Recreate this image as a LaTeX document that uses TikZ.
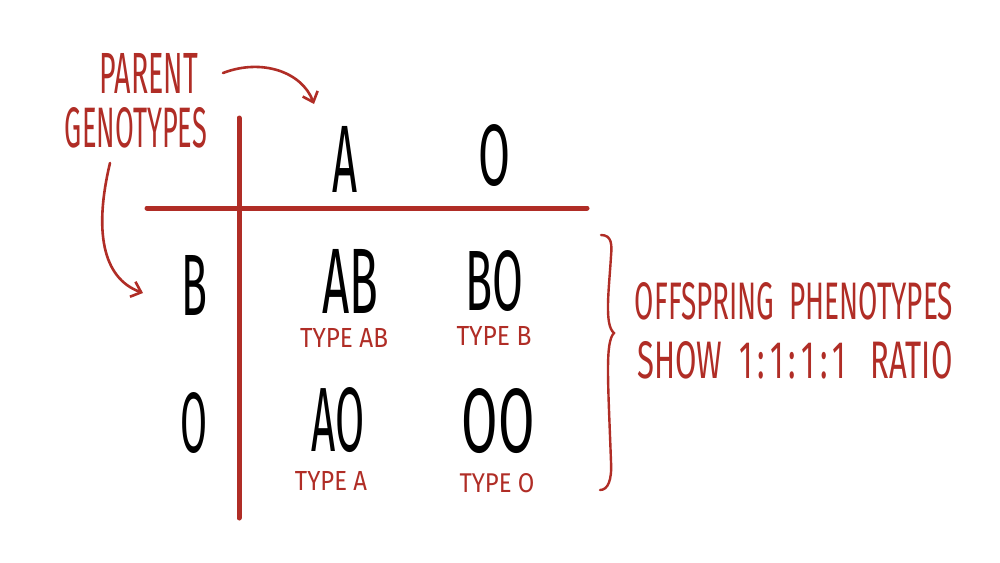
\documentclass[tikz,border=0pt]{standalone}
\usepackage{fontspec}
\setmainfont{Fira Sans}
\usepackage{graphicx}
\usetikzlibrary{arrows.meta}
\definecolor{pred}{HTML}{B02D26}
\newcommand\fitbox[3]{\resizebox{#1pt}{#2pt}{#3}}
\tikzset{
  lbl/.style={inner sep=0pt, anchor=center, text=pred},
  big/.style={inner sep=0pt, anchor=center, text=black},
  rline/.style={draw=pred, line width=5pt, line cap=round},
  rarrow/.style={draw=pred, line width=2.6pt, line cap=round, -{Straight Barb[length=9pt,width=16pt,line width=2.6pt]}},
  brace/.style={draw=pred, line width=2.4pt, line cap=round}
}
\begin{document}
\begin{tikzpicture}[x=1pt,y=-1pt]
\useasboundingbox (0,0) rectangle (1000,562);
\fill[white] (0,0) rectangle (1000,562);
% grid lines
\coordinate (vt) at (239,118);
\coordinate (vb) at (239,518);
\coordinate (hl) at (147,208);
\coordinate (hr) at (587,208);
\draw[rline] (vt) -- (vb);
\draw[rline] (hl) -- (hr);
% labels
\node[lbl] (pa) at (149,73) {\fitbox{98}{40}{PARENT}};
\node[lbl] (ge) at (136,128) {\fitbox{142}{40}{GENOTYPES}};
% header alleles
\node[big] (hA) at (345,159) {\fitbox{25}{66}{A}};
\node[big] (hO) at (494,156) {\fitbox{32}{61}{O}};
\node[big] (rB) at (195,285) {\fitbox{26}{60}{B}};
\node[big] (rO) at (194,423) {\fitbox{27}{60}{O}};
% cells
\node[big] (cAB) at (350,281) {\fitbox{56}{64}{AB}};
\node[big] (cBO) at (494,281) {\fitbox{58}{60}{BO}};
\node[big] (cAO) at (338,420) {\fitbox{53}{64}{AO}};
\node[big] (cOO) at (498,421) {\fitbox{73}{64}{OO}};
\node[lbl] (tAB) at (344,338) {\fitbox{88}{19}{TYPE AB}};
\node[lbl] (tB) at (494,336) {\fitbox{75}{19}{TYPE B}};
\node[lbl] (tA) at (331,481) {\fitbox{72}{19}{TYPE A}};
\node[lbl] (tO) at (497,483) {\fitbox{75}{19}{TYPE O}};
% right text
\node[lbl] (off1) at (794,301) {\fitbox{318}{37}{OFFSPRING\ \ PHENOTYPES}};
\node[lbl] (off2) at (795,360) {\fitbox{315}{37}{SHOW\ \ 1\,:\,1\,:\,1\,:\,1\ \ \ RATIO}};
% arrows
\coordinate (a1s) at (223,73);
\coordinate (a1e) at (314,104);
\draw[rarrow] (a1s) .. controls (262,58) and (302,72) .. (a1e);
\coordinate (a2s) at (110,163);
\coordinate (a2e) at (143,293);
\draw[rarrow] (a2s) .. controls (94,230) and (102,278) .. (a2e);
% brace
\draw[brace] (601,235) .. controls (612,235) and (612,245) .. (611,256)
  .. controls (609,290) and (604,325) .. (614,333)
  .. controls (605,342) and (608,380) .. (611,462)
  .. controls (612,480) and (608,490) .. (600,490);
\end{tikzpicture}
\end{document}
